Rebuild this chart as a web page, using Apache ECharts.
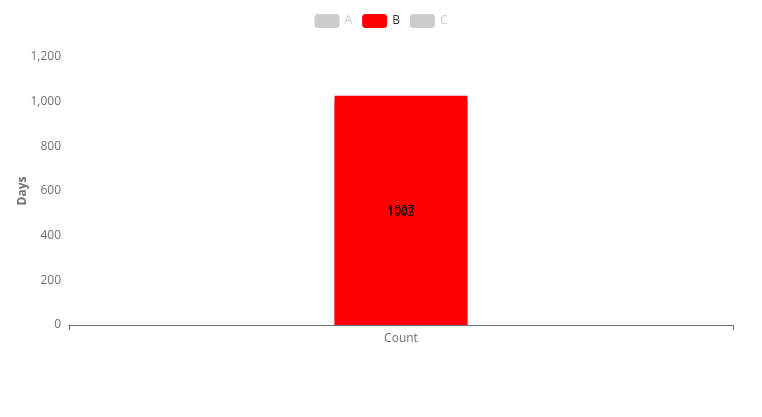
<!DOCTYPE html>
<html>
<head>
<meta charset="utf-8">
<script src="https://cdn.jsdelivr.net/npm/echarts@6/dist/echarts.min.js"></script>
<style>html,body{margin:0;padding:0;background:#fff}#c{width:762px;height:417px}</style>
</head>
<body>
<div id="c"></div>
<script>
var categories = ['Count'];
var seriesNames = ['A', 'B', 'B', 'C'];
var valuesA = [980];
var valuesB1 = [1027];
var valuesB2 = [1003];
var valuesC = [950];
var yTicks = [0, 200, 400, 600, 800, 1000, 1200];

var FONT = '"Open Sans", "Noto Sans", sans-serif';
var chart = echarts.init(document.getElementById('c'));
var lbl = { show: true, position: 'inside', color: '#000', fontSize: 12, fontFamily: FONT };
chart.setOption({
  animation: false,
  textStyle: { fontFamily: FONT },
  color: ['#5470c6', '#ff0000', '#91cc75'],
  legend: {
    top: 9,
    data: ['A', 'B', 'C'],
    selected: { A: false, B: true, C: false },
    itemGap: 10,
    inactiveColor: '#ccc',
    textStyle: { color: '#333', fontFamily: FONT }
  },
  grid: { left: 69, right: 29, top: 57, bottom: 92, containLabel: false },
  xAxis: {
    type: 'category',
    data: categories,
    axisLine: { lineStyle: { color: '#6e7079' } },
    axisTick: { show: true },
    axisLabel: { color: '#6e7079', fontFamily: FONT }
  },
  yAxis: {
    type: 'value',
    min: yTicks[0],
    max: yTicks[yTicks.length - 1],
    interval: 200,
    name: 'Days',
    nameLocation: 'middle',
    nameGap: 40,
    nameMoveOverlap: false,
    nameTextStyle: { fontWeight: 'bold', color: '#6e7079', fontFamily: FONT },
    splitLine: { show: false },
    axisLine: { show: false },
    axisTick: { show: false },
    axisLabel: { color: '#6e7079', fontFamily: FONT }
  },
  series: [
    { name: seriesNames[0], type: 'bar', data: valuesA, barWidth: '20%', label: lbl, itemStyle: { color: '#5470c6' } },
    { name: seriesNames[1], type: 'bar', data: valuesB1, barWidth: '20%', barGap: '-100%', label: lbl, itemStyle: { color: '#ff0000' } },
    { name: seriesNames[2], type: 'bar', data: valuesB2, barWidth: '20%', barGap: '-100%', label: lbl, itemStyle: { color: '#ff0000' } },
    { name: seriesNames[3], type: 'bar', data: valuesC, barWidth: '20%', barGap: '-100%', label: lbl, itemStyle: { color: '#91cc75' } }
  ]
});
</script>
</body>
</html>
